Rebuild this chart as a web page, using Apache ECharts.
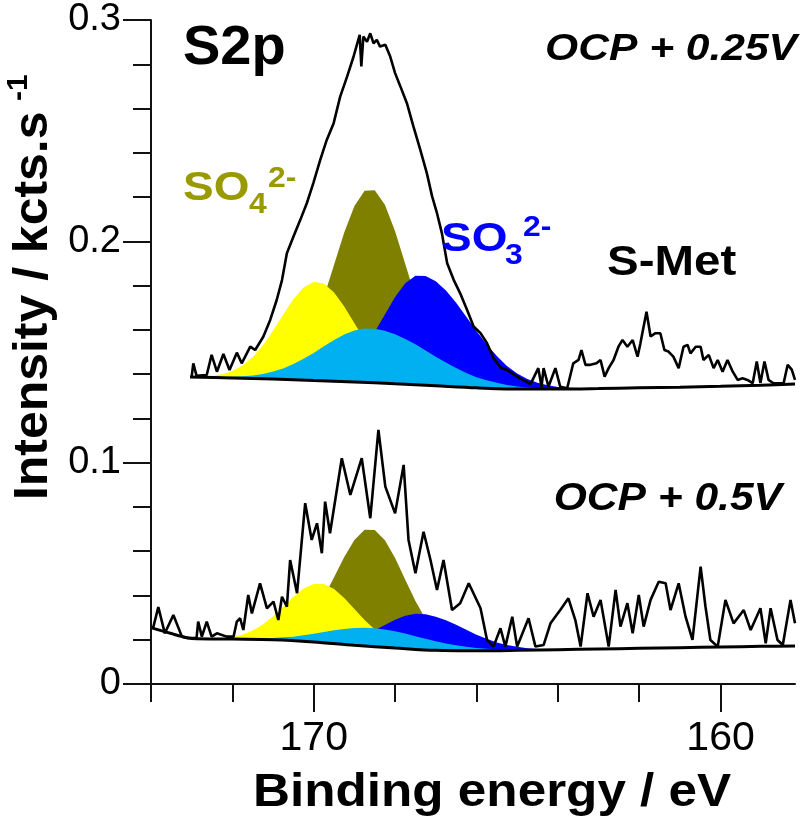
<!DOCTYPE html>
<html><head><meta charset="utf-8">
<script src="https://cdn.jsdelivr.net/npm/echarts@6/dist/echarts.min.js"></script>
<style>html,body{margin:0;padding:0;background:#fff}#c{width:800px;height:829px}</style>
</head><body><div id="c"></div><script>
// ---------- data (binding energy in eV, intensity in kcts/s) ----------
const xTickValues = [160, 162, 164, 166, 168, 170, 172, 174];
const xLabelValues = [160, 170];
const yTickValues = [0, 0.1, 0.2, 0.3];

// common energy grid of the fitted components
const compE = [173.0,172.75,172.5,172.25,172.0,171.75,171.5,171.25,171.0,170.75,170.5,170.25,170.0,169.75,169.5,169.25,169.0,168.75,168.5,168.25,168.0,167.75,167.5,167.25,167.0,166.75,166.5,166.25,166.0,165.75,165.5,165.25,165.0,164.75,164.5,164.25,164.0,163.75,163.5];

// OCP + 0.25 V : background under the fit and component heights above it
const bgTop = [0.1387,0.1386,0.1385,0.1384,0.1383,0.1382,0.1380,0.1379,0.1378,0.1376,0.1375,0.1373,0.1371,0.1370,0.1368,0.1367,0.1365,0.1363,0.1361,0.1358,0.1356,0.1354,0.1352,0.1349,0.1347,0.1345,0.1343,0.1340,0.1338,0.1337,0.1336,0.1334,0.1333,0.1333,0.1333,0.1333,0.1333,0.1334,0.1334];
const so4aTop = [0.0001,0.0003,0.0007,0.0016,0.0031,0.0057,0.0096,0.0150,0.0218,0.0292,0.0363,0.0418,0.0445,0.0439,0.0401,0.0339,0.0265,0.0192,0.0129,0.0080,0.0046,0.0024,0.0012,0.0006,0.0002,0,0,0,0,0,0,0,0,0,0,0,0,0,0];
const so4bTop = [0,0,0,0,0.0001,0.0002,0.0004,0.0010,0.0022,0.0046,0.0087,0.0155,0.0252,0.0379,0.0526,0.0673,0.0795,0.0866,0.0870,0.0807,0.0690,0.0544,0.0396,0.0266,0.0165,0.0094,0.0050,0.0024,0.0011,0.0005,0.0002,0,0,0,0,0,0,0,0];
const midTop = [0,0.0001,0.0001,0.0003,0.0005,0.0008,0.0014,0.0022,0.0034,0.0050,0.0071,0.0096,0.0125,0.0156,0.0186,0.0212,0.0232,0.0243,0.0244,0.0238,0.0224,0.0205,0.0183,0.0158,0.0132,0.0108,0.0085,0.0065,0.0048,0.0035,0.0025,0.0017,0.0011,0.0007,0.0004,0.0003,0.0002,0.0001,0];
const so3Top = [0,0,0,0,0,0,0,0,0,0.0001,0.0001,0.0003,0.0007,0.0016,0.0031,0.0057,0.0098,0.0156,0.0229,0.0311,0.0392,0.0457,0.0493,0.0494,0.0473,0.0433,0.0380,0.0319,0.0257,0.0198,0.0146,0.0103,0.0070,0.0045,0.0028,0.0017,0.0009,0.0005,0.0003];

// OCP + 0.5 V
const bgBot = [0.0206,0.0205,0.0205,0.0204,0.0203,0.0202,0.0202,0.0201,0.0200,0.0198,0.0195,0.0193,0.0190,0.0186,0.0183,0.0179,0.0175,0.0172,0.0169,0.0166,0.0163,0.0160,0.0157,0.0155,0.0152,0.0151,0.0151,0.0150,0.0150,0.0150,0.0151,0.0151,0.0152,0.0153,0.0153,0.0154,0.0155,0.0156,0.0156];
const so4aBot = [0,0.0001,0.0002,0.0005,0.0011,0.0021,0.0040,0.0068,0.0105,0.0151,0.0198,0.0238,0.0262,0.0266,0.0246,0.0210,0.0164,0.0117,0.0077,0.0046,0.0026,0.0013,0.0006,0.0003,0.0001,0,0,0,0,0,0,0,0,0,0,0,0,0,0];
const so4bBot = [0,0,0,0,0,0,0.0001,0.0003,0.0008,0.0019,0.0040,0.0076,0.0131,0.0207,0.0299,0.0395,0.0476,0.0525,0.0527,0.0484,0.0406,0.0311,0.0218,0.0139,0.0081,0.0043,0.0021,0.0009,0.0004,0.0002,0,0,0,0,0,0,0,0,0];
const midBot = [0,0,0,0,0.0001,0.0001,0.0003,0.0005,0.0008,0.0013,0.0019,0.0027,0.0037,0.0049,0.0060,0.0070,0.0078,0.0082,0.0083,0.0080,0.0075,0.0068,0.0059,0.0050,0.0041,0.0032,0.0024,0.0018,0.0013,0.0009,0.0006,0.0004,0.0003,0.0002,0.0001,0,0,0,0];
const so3Bot = [0,0,0,0,0,0,0,0,0,0,0,0.0001,0.0002,0.0005,0.0010,0.0019,0.0032,0.0051,0.0074,0.0101,0.0127,0.0148,0.0160,0.0160,0.0152,0.0137,0.0117,0.0095,0.0073,0.0054,0.0037,0.0025,0.0016,0.0009,0.0005,0.0003,0.0002,0.0001,0];

// background lines over the whole range
const bgTopLineE = [173.04,172,171,170,169,168,167,166,165,164,163,162,161,160,159,158.17];
const bgTopLineV = [0.1387,0.1383,0.1378,0.1371,0.1365,0.1356,0.1347,0.1338,0.1333,0.1333,0.1335,0.1338,0.1341,0.1345,0.1350,0.1355];
const bgBotLineE = [174.0,173.75,173.5,173.25,173.0,172,171,170,169,168,167,166,165,164,163,162,161,160,159,158.17];
const bgBotLineV = [0.0255,0.0241,0.0228,0.0215,0.0206,0.0203,0.0200,0.0190,0.0175,0.0163,0.0152,0.0150,0.0152,0.0155,0.0158,0.0161,0.0164,0.0167,0.0170,0.0172];

// measured spectra
const specTopE = [173.00,172.96,172.88,172.63,172.51,172.38,172.22,172.07,171.89,171.77,171.56,171.44,171.24,171.07,170.91,170.78,170.66,170.50,170.33,170.17,170.01,169.84,169.68,169.51,169.35,169.18,169.02,168.94,168.87,168.83,168.78,168.69,168.61,168.53,168.45,168.37,168.24,168.12,168.00,167.87,167.71,167.55,167.38,167.22,167.09,166.97,166.85,166.72,166.56,166.40,166.23,166.07,165.90,165.74,165.58,165.41,165.25,165.09,164.92,164.76,164.67,164.48,164.40,164.35,164.23,164.06,163.94,163.77,163.62,163.49,163.42,163.32,163.20,163.05,162.95,162.85,162.75,162.63,162.51,162.41,162.29,162.16,162.04,161.97,161.82,161.72,161.60,161.48,161.38,161.28,161.16,161.03,160.91,160.81,160.74,160.61,160.49,160.42,160.29,160.17,160.07,159.95,159.83,159.70,159.58,159.46,159.34,159.21,159.11,159.02,158.92,158.82,158.70,158.57,158.45,158.35,158.25,158.17];
const specTopV = [0.1389,0.1449,0.1392,0.1396,0.1487,0.1411,0.1491,0.1419,0.1497,0.1449,0.1524,0.1509,0.1569,0.1645,0.1735,0.1825,0.1946,0.2021,0.2097,0.2172,0.2263,0.2368,0.2458,0.2534,0.2654,0.2744,0.2835,0.2888,0.2933,0.2790,0.2925,0.2902,0.2940,0.2894,0.2910,0.2880,0.2888,0.2835,0.2760,0.2700,0.2624,0.2519,0.2413,0.2308,0.2203,0.2127,0.2037,0.1901,0.1826,0.1765,0.1690,0.1615,0.1585,0.1540,0.1472,0.1430,0.1419,0.1400,0.1380,0.1365,0.1355,0.1427,0.1343,0.1427,0.1343,0.1427,0.1343,0.1336,0.1449,0.1464,0.1509,0.1442,0.1442,0.1449,0.1464,0.1389,0.1427,0.1464,0.1524,0.1554,0.1524,0.1554,0.1479,0.1539,0.1682,0.1570,0.1585,0.1585,0.1509,0.1502,0.1479,0.1427,0.1524,0.1532,0.1494,0.1524,0.1524,0.1464,0.1487,0.1427,0.1464,0.1411,0.1464,0.1411,0.1374,0.1381,0.1374,0.1359,0.1457,0.1360,0.1457,0.1374,0.1359,0.1359,0.1359,0.1442,0.1420,0.1374];
const specBotE = [174.00,173.94,173.82,173.66,173.45,173.24,173.11,172.88,172.84,172.75,172.63,172.51,172.38,172.14,171.97,171.89,171.81,171.73,171.61,171.52,171.32,171.15,170.99,170.87,170.78,170.66,170.58,170.41,170.21,170.05,169.92,169.80,169.72,169.60,169.31,169.10,168.82,168.61,168.41,168.24,168.00,167.79,167.67,167.50,167.30,167.13,166.97,166.81,166.60,166.40,166.19,165.90,165.74,165.58,165.41,165.29,165.12,165.00,164.72,164.55,164.35,164.18,163.94,163.74,163.57,163.44,163.27,163.12,162.95,162.75,162.58,162.46,162.29,162.16,162.01,161.89,161.72,161.52,161.35,161.23,161.03,160.86,160.69,160.49,160.37,160.25,160.07,159.88,159.68,159.43,159.26,159.02,158.89,158.77,158.60,158.47,158.28,158.17];
const specBotV = [0.0253,0.0259,0.0348,0.0229,0.0312,0.0214,0.0208,0.0208,0.0282,0.0214,0.0282,0.0214,0.0229,0.0214,0.0214,0.0282,0.0297,0.0244,0.0402,0.0319,0.0455,0.0342,0.0372,0.0289,0.0394,0.0349,0.0560,0.0410,0.0817,0.0651,0.0726,0.0591,0.0824,0.0681,0.1020,0.0854,0.1020,0.0749,0.1148,0.0892,0.0771,0.0990,0.0651,0.0500,0.0688,0.0560,0.0425,0.0560,0.0334,0.0365,0.0455,0.0342,0.0199,0.0169,0.0252,0.0169,0.0304,0.0169,0.0297,0.0169,0.0176,0.0274,0.0334,0.0387,0.0289,0.0169,0.0410,0.0304,0.0380,0.0169,0.0425,0.0259,0.0365,0.0229,0.0402,0.0259,0.0380,0.0462,0.0455,0.0334,0.0455,0.0304,0.0199,0.0530,0.0349,0.0199,0.0169,0.0380,0.0274,0.0334,0.0244,0.0342,0.0184,0.0342,0.0199,0.0176,0.0380,0.0274];

// ---------- styling ----------
const C_YELLOW = '#ffff00', C_OLIVE = '#7f7f00', C_LBLUE = '#00b0f0', C_BLUE = '#0000ff';
const FONT = '"Liberation Sans", Arial, sans-serif';
const AX = '#111';

function pairs(xs, ys) { return xs.map((x, i) => [x, ys[i]]); }

// filled component: area between the background and background + component,
// positioned through the cartesian scales with api.coord
function component(bg, vals, color) {
  return {
    type: 'custom', coordinateSystem: 'cartesian2d', silent: true, clip: true, z: 2,
    data: [[compE[0], bg[0]]],
    renderItem: function (params, api) {
      const upper = compE.map((e, i) => api.coord([e, bg[i] + vals[i]]));
      const lower = compE.map((e, i) => api.coord([e, bg[i]])).reverse();
      return { type: 'polygon', shape: { points: upper.concat(lower) },
        style: { fill: color, stroke: null } };
    }
  };
}
function line(xs, ys, w, smooth) {
  return { type: 'line', data: pairs(xs, ys), symbol: 'none', silent: true, smooth: smooth || false,
    lineStyle: { color: '#000', width: w }, z: 3 };
}

const series = [
  component(bgTop, so4bTop, C_OLIVE),
  component(bgTop, so4aTop, C_YELLOW),
  component(bgTop, so3Top, C_BLUE),
  component(bgTop, midTop, C_LBLUE),
  component(bgBot, so4bBot, C_OLIVE),
  component(bgBot, so4aBot, C_YELLOW),
  component(bgBot, so3Bot, C_BLUE),
  component(bgBot, midBot, C_LBLUE),
  line(bgTopLineE, bgTopLineV, 3, 0.3), line(bgBotLineE, bgBotLineV, 3, 0.3),
  line(specTopE, specTopV, 2.6), line(specBotE, specBotV, 2.6)
];

function txt(x, y, text, size, color, opts) {
  opts = opts || {};
  return { type: 'text', x: x, y: y, scaleX: opts.sx || 1, z: 100, silent: true,
    style: { text: text, fill: color, fontSize: size, fontWeight: 'bold', fontStyle: opts.italic ? 'italic' : 'normal',
      fontFamily: FONT, align: opts.align || 'left', verticalAlign: 'top' } };
}

const option = {
  animation: false,
  grid: { left: 151, right: 5, top: 20, bottom: 145, containLabel: false, outerBoundsMode: 'none' },
  xAxis: [
    { type: 'value', position: 'bottom', min: 158.17, max: 174, inverse: true, z: 10,
      axisLine: { show: true, onZero: false, lineStyle: { color: AX, width: 2 } },
      axisTick: { show: true, length: 18, customValues: xTickValues, lineStyle: { color: AX, width: 2 } },
      axisLabel: { show: false }, splitLine: { show: false } },
    { type: 'value', position: 'bottom', min: 158.17, max: 174, inverse: true, z: 10,
      axisLine: { show: false, onZero: false },
      axisTick: { show: true, length: 28, customValues: xLabelValues, lineStyle: { color: AX, width: 2 } },
      axisLabel: { show: true, customValues: xLabelValues, fontSize: 41, fontFamily: FONT, color: '#000', margin: 34 },
      splitLine: { show: false } }
  ],
  yAxis: { type: 'value', min: 0, max: 0.3, interval: 0.1, z: 10,
    axisLine: { show: true, onZero: false, lineStyle: { color: AX, width: 2 } },
    axisTick: { show: true, length: 28, lineStyle: { color: AX, width: 2 } },
    minorTick: { show: true, splitNumber: 5, length: 18, lineStyle: { color: AX, width: 2 } },
    axisLabel: { fontSize: 38, fontFamily: FONT, color: '#000', margin: 30,
      formatter: v => { const k = yTickValues.findIndex(t => Math.abs(t - v) < 1e-9); return k >= 0 ? String(yTickValues[k]) : ''; } },
    splitLine: { show: false }, minorSplitLine: { show: false } },
  series: series,
  graphic: { elements: [
    txt(183, 20.6, 'S2p', 56, '#000'),
    txt(797, 31.7, 'OCP + 0.25V', 37, '#000', { italic: true, align: 'right', sx: 1.15 }),
    txt(782, 480.8, 'OCP + 0.5V', 38, '#000', { italic: true, align: 'right', sx: 1.12 }),
    txt(607, 242.4, 'S-Met', 42, '#000', { sx: 1.13 }),
    txt(183, 168.3, 'SO', 41, '#999900', { sx: 1.12 }),
    txt(249, 190.5, '4', 29, '#999900', { sx: 1.1 }),
    txt(268, 164.2, '2-', 29, '#999900', { sx: 1.1 }),
    txt(441, 219, 'SO', 41, C_BLUE, { sx: 1.12 }),
    txt(505, 241, '3', 29, C_BLUE, { sx: 1.1 }),
    txt(523, 213, '2-', 29, C_BLUE, { sx: 1.1 }),
    txt(253, 770, 'Binding energy / eV', 47, '#000', { sx: 1.09 }),
    { type: 'group', x: 0, y: 500, rotation: Math.PI / 2, children: [
      txt(0, 9.4, 'Intensity / kcts.s', 48, '#000', { sx: 1.04 }),
      txt(399, 4.1, '-1', 30, '#000')
    ] }
  ] }
};

const chart = echarts.init(document.getElementById('c'), null, { renderer: 'canvas' });
chart.setOption(option);
</script></body></html>
